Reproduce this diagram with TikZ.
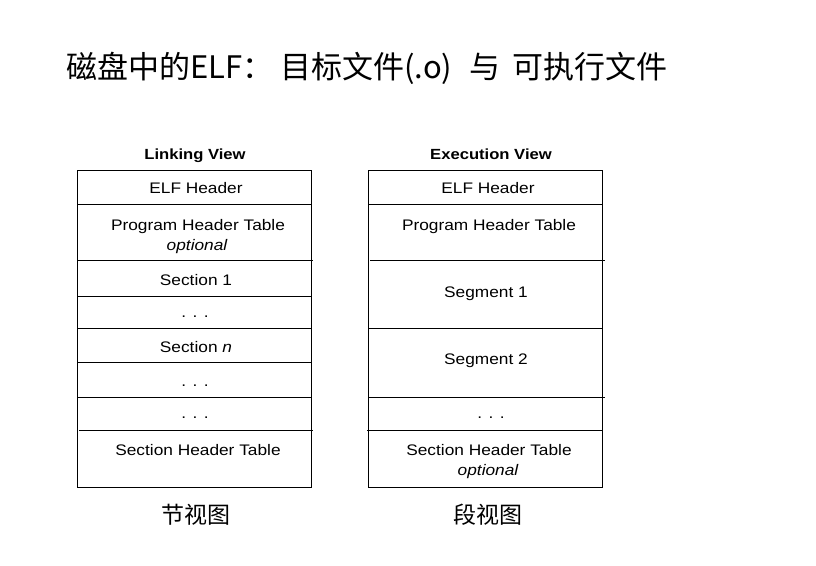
\documentclass[tikz,border=0pt]{standalone}
\usepackage{fontspec}
\setmainfont{Liberation Sans}[FakeStretch=1.13]
\newfontfamily\cjk{Noto Sans CJK SC}
\begin{document}
\begin{tikzpicture}[x=1pt,y=-1pt,
  lbl/.style={anchor=base, inner sep=0pt, font=\fontsize{15.3}{18}\selectfont},
  ttl/.style={anchor=base, inner sep=0pt, font=\fontsize{14.7}{18}\selectfont\bfseries},
  capt/.style={anchor=center, inner sep=0pt, font=\cjk\fontsize{23}{28}\selectfont},
  frame/.style={draw=black, line width=0.9pt}]
\useasboundingbox (0,0) rectangle (816,565);
% title
\node[anchor=base west, inner sep=0pt, font=\cjk\fontsize{31}{36}\selectfont] (title) at (66,78) {磁盘中的ELF：\hspace{7pt}目标文件(.o)\hspace{10pt} 与 \hspace{5pt}可执行文件};
% left table
\draw[frame] (77,170) rectangle (311,487);
\foreach \y in {204,296,328,362,397} \draw[frame] (77,\y) -- (311,\y);
\draw[frame] (77,260) -- (313,260);
\draw[frame] (79,430) -- (313,430);
\node[ttl] (lv) at (195,159) {Linking View};
\node[lbl] (l1) at (196,193) {ELF Header};
\node[lbl] (l2) at (198,230) {Program Header Table};
\node[lbl] (l2o) at (197,250) {\itshape optional};
\node[lbl] (l3) at (196,285) {Section 1};
\node[lbl] (l4) at (195,317) {. . .};
\node[lbl] (l5) at (196,352) {Section \textit{n}};
\node[lbl] (l6) at (195,386) {. . .};
\node[lbl] (l7) at (195,418) {. . .};
\node[lbl] (l8) at (198,455) {Section Header Table};
\node[capt] (lc) at (196,515) {节视图};
% right table
\draw[frame] (368,170) rectangle (602,487);
\draw[frame] (368,204) -- (603,204);
\draw[frame] (370,260) -- (605,260);
\draw[frame] (368,328) -- (602,328);
\draw[frame] (368,397) -- (605,397);
\draw[frame] (367,430) -- (602,430);
\node[ttl] (ev) at (491,159) {Execution View};
\node[lbl] (r1) at (488,193) {ELF Header};
\node[lbl] (r2) at (489,230) {Program Header Table};
\node[lbl] (r3) at (486,297) {Segment 1};
\node[lbl] (r4) at (486,364) {Segment 2};
\node[lbl] (r5) at (491,418) {. . .};
\node[lbl] (r6) at (489,455) {Section Header Table};
\node[lbl] (r6o) at (488,475) {\itshape optional};
\node[capt] (rc) at (488,515) {段视图};
\end{tikzpicture}
\end{document}
